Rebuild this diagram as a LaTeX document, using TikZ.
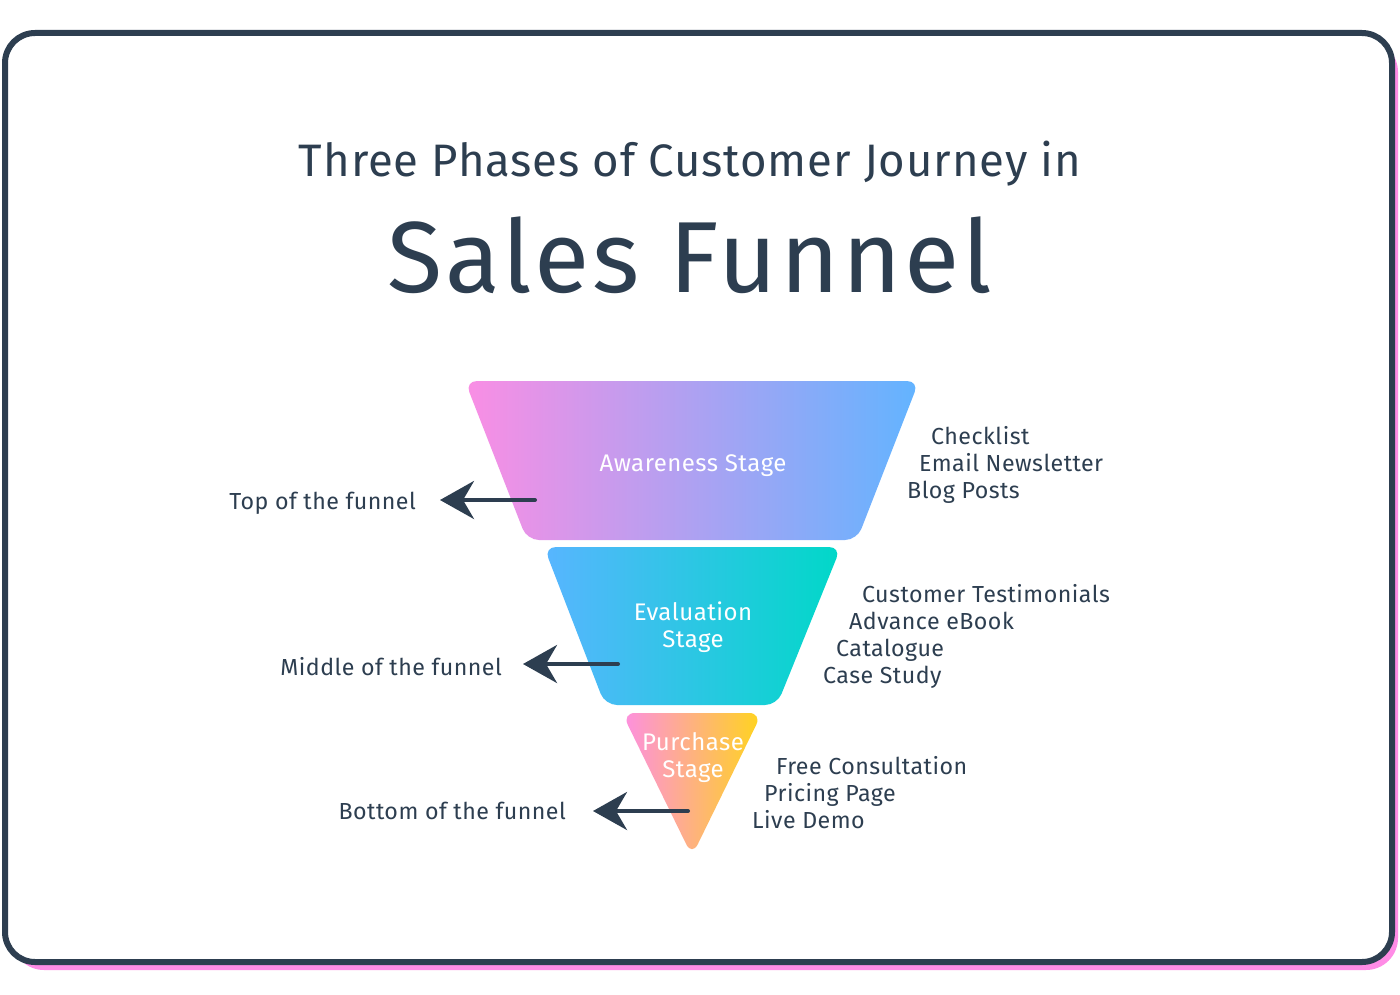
\documentclass[tikz,border=0pt]{standalone}
\usepackage{fontspec}
\setmainfont{Fira Sans}[LetterSpace=2]
\usetikzlibrary{arrows.meta}
\definecolor{ink}{HTML}{2D3E50}
\definecolor{shadowpink}{HTML}{FF8CE6}
\definecolor{awL}{HTML}{FA8EE4}
\definecolor{awR}{HTML}{62B4FF}
\definecolor{evL}{HTML}{58B5FF}
\definecolor{evR}{HTML}{00D8C8}
\definecolor{puL}{HTML}{FD8FE2}
\definecolor{puR}{HTML}{FFD51C}
\begin{document}
\begin{tikzpicture}[x=1pt,y=-1pt,
  lbl/.style={text=ink,font=\fontsize{23.2}{27}\selectfont,inner sep=0pt},
  stagetxt/.style={text=white,font=\fontsize{24}{27}\selectfont,inner sep=0pt,align=center},
  arr/.style={draw=ink,line width=4,line cap=round,-{Stealth[length=34,width=38,inset=11]}}]
\useasboundingbox (0,0) rectangle (1400,995);
\fill[white] (0,0) rectangle (1400,995);
% frame
\fill[shadowpink, rounded corners=32] (12,40) rectangle (1398,970);
\draw[ink, line width=6, fill=white, rounded corners=30] (5,33) rectangle (1392,962);
% title
\node[text=ink,font=\fontsize{45.5}{56}\selectfont,inner sep=0pt,anchor=base] (t1) at (690,177) {Three Phases of Customer Journey in};
\node[text=ink,font=\fontsize{101}{120}\selectfont\addfontfeature{LetterSpace=3},inner sep=0pt,anchor=base] (t2) at (690,292) {Sales Funnel};
% funnel
\shade[left color=awL, right color=awR, rounded corners=12] (465,381) -- (919,381) -- (857,540) -- (527,540) -- cycle;
\shade[left color=evL, right color=evR, rounded corners=12] (544,547) -- (841,547) -- (777,705) -- (605,705) -- cycle;
\shade[left color=puL, right color=puR, rounded corners=13] (622,713) -- (762,713) -- (692,856) -- cycle;
\node[stagetxt,anchor=base] (aw) at (693,471) {Awareness Stage};
\node[stagetxt,anchor=base] (ev1) at (693,620) {Evaluation};
\node[stagetxt,anchor=base] (ev2) at (693,647) {Stage};
\node[stagetxt,anchor=base] (pu1) at (693,750) {Purchase};
\node[stagetxt,anchor=base] (pu2) at (693,777) {Stage};
% left labels and arrows
\node[lbl,anchor=base east] (top) at (416,509) {Top of the funnel};
\node[lbl,anchor=base east] (mid) at (502,675) {Middle of the funnel};
\node[lbl,anchor=base east] (bot) at (566,819) {Bottom of the funnel};
\coordinate (a1s) at (535,500); \coordinate (a1e) at (440,500);
\coordinate (a2s) at (618,664); \coordinate (a2e) at (523,664);
\coordinate (a3s) at (688,811); \coordinate (a3e) at (593,811);
\draw[arr] (a1s) -- (a1e);
\draw[arr] (a2s) -- (a2e);
\draw[arr] (a3s) -- (a3e);
% right labels
\node[lbl,anchor=base west] (r1) at (931,444) {Checklist};
\node[lbl,anchor=base west] (r2) at (919,471) {Email Newsletter};
\node[lbl,anchor=base west] (r3) at (907,498) {Blog Posts};
\node[lbl,anchor=base west] (r4) at (862,602) {Customer Testimonials};
\node[lbl,anchor=base west] (r5) at (849,629) {Advance eBook};
\node[lbl,anchor=base west] (r6) at (836,656) {Catalogue};
\node[lbl,anchor=base west] (r7) at (823,683) {Case Study};
\node[lbl,anchor=base west] (r8) at (776,774) {Free Consultation};
\node[lbl,anchor=base west] (r9) at (764,801) {Pricing Page};
\node[lbl,anchor=base west] (r10) at (752,828) {Live Demo};
\end{tikzpicture}
\end{document}
